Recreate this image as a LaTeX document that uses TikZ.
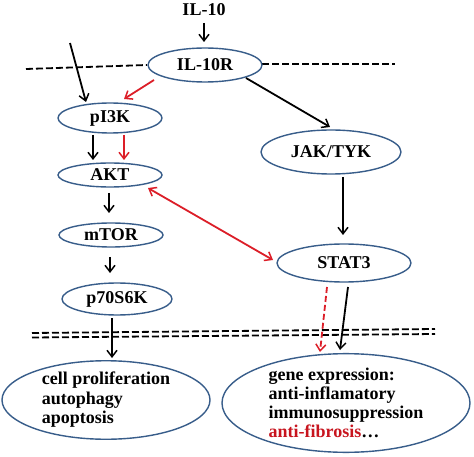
\documentclass[tikz,border=0pt]{standalone}
\usepackage{fontspec}
\setmainfont{Liberation Serif}
\usetikzlibrary{shapes.geometric,arrows.meta,calc}
\definecolor{ebord}{RGB}{56,93,138}
\definecolor{rd}{RGB}{220,30,40}
\definecolor{rdtext}{RGB}{200,20,30}
\begin{document}
\begin{tikzpicture}[x=1pt,y=-1pt,
  ell/.style={ellipse,draw=ebord,line width=1.4pt,inner sep=0pt,font=\fontsize{18}{20}\selectfont\bfseries},
  arr/.style={line width=1.8pt,-{Straight Barb[length=6.5pt,width=10pt,line width=1.5pt]}},
  rarr/.style={arr,draw=rd},
  memb/.style={line width=1.8pt,dash pattern=on 7pt off 3pt}]
\useasboundingbox (0,0) rectangle (474,457);
\fill[white] (0,0) rectangle (474,457);
% membranes
\draw[memb] (26,69) -- (147,65);
\draw[memb] (262,64) -- (395,64);
\draw[memb] (32,333) -- (435,329);
\draw[memb] (32,337.5) -- (435,334);
% nodes
\node[font=\fontsize{18}{20}\selectfont\bfseries] (il10) at (204,10) {IL-10};
\node[ell,minimum width=114pt,minimum height=34pt] (il10r) at (205,65) {IL-10R};
\node[ell,minimum width=104pt,minimum height=30pt] (pi3k) at (110,118) {pI3K};
\node[ell,minimum width=104pt,minimum height=24pt] (akt) at (110,175) {AKT};
\node[ell,minimum width=104pt,minimum height=24pt] (mtor) at (111,235) {mTOR};
\node[ell,minimum width=110pt,minimum height=32pt] (p70) at (117,299) {p70S6K};
\node[ell,minimum width=140pt,minimum height=44pt] (jak) at (331,152) {JAK/TYK};
\node[ell,minimum width=134pt,minimum height=38pt] (stat3) at (344,263) {STAT3};
\node[ell,minimum width=208pt,minimum height=76pt,align=left,font=\fontsize{18}{19.5}\selectfont\bfseries] (cell) at (106,400) {cell proliferation\\autophagy\\apoptosis};
\node[ell,minimum width=248pt,minimum height=96pt,align=left,font=\fontsize{18}{19}\selectfont\bfseries] (gene) at (346,403) {gene expression:\\anti-inflamatory\\immunosuppression\\\textcolor{rdtext}{anti-fibrosis}\ldots};
\coordinate (ext) at (70,43);
% connectors
\draw[arr] ($(il10)+(0,13)$) -- ($(il10r)+(-1,-23)$);
\draw[arr] (ext) -- ($(pi3k)+(-24,-16)$);
\draw[rarr] ($(il10r)+(-51,15)$) -- ($(pi3k)+(14,-19)$);
\draw[arr] ($(il10r)+(41,13)$) -- ($(jak)+(-1,-25)$);
\draw[arr] ($(pi3k)+(-17,17)$) -- ($(akt)+(-17,-15)$);
\draw[rarr] ($(pi3k)+(14,17)$) -- ($(akt)+(14,-15)$);
\draw[arr] ($(akt)+(-1,18)$) -- ($(mtor)+(-2,-22)$);
\draw[rarr,{Straight Barb[length=6.5pt,width=10pt,line width=1.5pt]}-{Straight Barb[length=6.5pt,width=10pt,line width=1.5pt]}] ($(akt)+(38,13)$) -- ($(stat3)+(-71,-3)$);
\draw[arr] ($(jak)+(12,25)$) -- ($(stat3)+(-1,-28)$);
\draw[arr] ($(mtor)+(-1,22)$) -- ($(p70)+(-7,-26)$);
\draw[arr] ($(p70)+(-5,19)$) -- ($(cell)+(6,-42)$);
\draw[rarr,dash pattern=on 6pt off 3pt] ($(stat3)+(-17,24)$) -- ($(gene)+(-26,-51)$);
\draw[arr] ($(stat3)+(4,24)$) -- ($(gene)+(-6,-53)$);
\end{tikzpicture}
\end{document}
